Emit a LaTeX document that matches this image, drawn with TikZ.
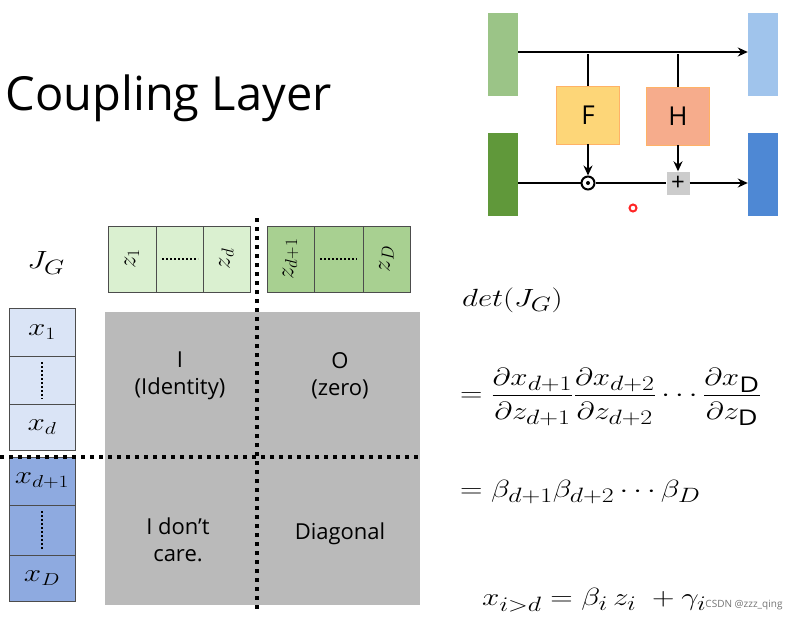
\documentclass[tikz,border=0pt]{standalone}
\usepackage{fontspec}
\setmainfont{Open Sans}
\usepackage{amsmath}
\usetikzlibrary{arrows.meta}
\definecolor{gA}{RGB}{155,196,135}
\definecolor{gB}{RGB}{96,152,58}
\definecolor{bA}{RGB}{160,196,236}
\definecolor{bB}{RGB}{78,136,212}
\definecolor{fF}{RGB}{253,214,120}
\definecolor{fH}{RGB}{246,172,140}
\definecolor{zA}{RGB}{218,240,208}
\definecolor{zB}{RGB}{168,208,145}
\definecolor{xA}{RGB}{218,228,246}
\definecolor{xB}{RGB}{142,170,224}
\newcommand{\wide}[1]{\scalebox{1.25}[1]{#1}}
\begin{document}
\begin{tikzpicture}[x=1pt,y=-1pt,
  blk/.style={draw=none,minimum width=30pt,minimum height=83pt},
  fn/.style={draw=orange!60,fill=#1,minimum width=63pt,minimum height=58pt,font=\fontsize{26}{26}\selectfont},
  arr/.style={line width=2pt,-{Stealth[length=10pt,width=9pt]}},
  ln/.style={line width=2pt},
  cell/.style={draw=black!70,line width=0.8pt},
  lbl/.style={font=\fontsize{22}{27}\selectfont,align=center},
  eq/.style={font=\fontsize{31}{34}\selectfont,anchor=west,inner sep=0pt},
  celldots/.style={line width=2pt,dash pattern=on 2pt off 2pt},
  dots/.style={line width=4pt,dash pattern=on 4pt off 5pt}]
\useasboundingbox (0,0) rectangle (798,621);
% title
\node[anchor=west,font=\fontsize{47}{47}\selectfont] (title) at (2,98) {Coupling Layer};
% coupling block diagram
\node[blk,fill=gA] (gi) at (503,54) {};
\node[blk,fill=gB] (go) at (503,174) {};
\node[blk,fill=bA] (bi) at (763,54) {};
\node[blk,fill=bB] (bo) at (763,174) {};
\node[fn=fF] (F) at (588,115) {F};
\node[fn=fH] (H) at (678,116) {H};
\node[circle,draw,line width=2pt,minimum size=13pt,inner sep=0pt] (odot) at (588,183) {};
\fill (odot) circle (2pt);
\node[fill=black!20,minimum size=23pt,inner sep=0pt,font=\fontsize{24}{24}\selectfont] (plus) at (678,183) {+};
\coordinate (tf) at (F.north |- gi);
\coordinate (th) at (H.north |- gi);
\draw[arr] (gi.east |- 0,52) -- (bi.west |- 0,52);
\draw[ln] (tf) -- (F.north);
\draw[ln] (th) -- (H.north);
\draw[arr] (F.south) -- (odot.north);
\draw[arr] (H.south) -- (plus.north);
\draw[ln] (go.east |- odot) -- (odot.west);
\draw[ln] (odot.east) -- (plus.west);
\draw[arr] (plus.east) -- (bo.west |- plus);
\draw[red!85,line width=2pt] (633,208) circle (3.5pt);
% Jacobian matrix
\node[font=\fontsize{30}{30}\selectfont] (jg) at (46,263) {\wide{$J_G$}};
\fill[black!27] (105,312) rectangle (420,605);
\foreach \a/\b/\t in {108/156/z_1,156/203/{},203/250/z_d}
  \draw[cell,fill=zA] (\a,226) rectangle (\b,292) node[midway,rotate=90,font=\fontsize{24}{24}\selectfont] {$\t$};
\foreach \a/\b/\t in {267/314/z_{d+1},314/363/{},363/410/z_D}
  \draw[cell,fill=zB] (\a,226) rectangle (\b,292) node[midway,rotate=90,font=\fontsize{24}{24}\selectfont] {$\t$};
\foreach \a/\b/\t in {308/356/x_1,356/404/{},404/450/x_d}
  \draw[cell,fill=xA] (9,\a) rectangle (75,\b) node[midway,font=\fontsize{26}{26}\selectfont] {\wide{$\t$}};
\foreach \a/\b/\t in {457/505/x_{d+1},505/555/{},555/601/x_D}
  \draw[cell,fill=xB] (9,\a) rectangle (75,\b) node[midway,font=\fontsize{26}{26}\selectfont] {\wide{$\t$}};
\draw[celldots] (162,259) -- (198,259);
\draw[celldots] (320,259) -- (357,259);
\draw[celldots] (42,362) -- (42,399);
\draw[celldots] (42,511) -- (42,550);
\draw[dots] (257,218) -- (257,612);
\draw[dots] (0,457) -- (420,457);
\node[lbl] (q1) at (180,376) {I\\(Identity)};
\node[lbl] (q2) at (340,376) {O\\(zero)};
\node[lbl] (q3) at (178,540) {I don’t\\care.};
\node[lbl] (q4) at (340,534) {Diagonal};
% determinant
\node[eq] (det) at (462,300) {\wide{$det(J_G)$}};
\node[eq] (e1) at (460,397) {\wide{$=\dfrac{\partial x_{d+1}}{\partial z_{d+1}}\dfrac{\partial x_{d+2}}{\partial z_{d+2}}\cdots\dfrac{\partial x_{\mathrm{D}}}{\partial z_{\mathrm{D}}}$}};
\node[eq] (e2) at (460,492) {\wide{$=\beta_{d+1}\beta_{d+2}\cdots\beta_D$}};
\node[eq] (e3) at (482,600) {\wide{$x_{i>d}=\beta_i\,z_i\;+\gamma_i$}};
\node[anchor=east,font=\fontsize{10}{10}\selectfont,text=black!55] (wm) at (786,605) {CSDN @zzz\_qing};
\end{tikzpicture}
\end{document}
